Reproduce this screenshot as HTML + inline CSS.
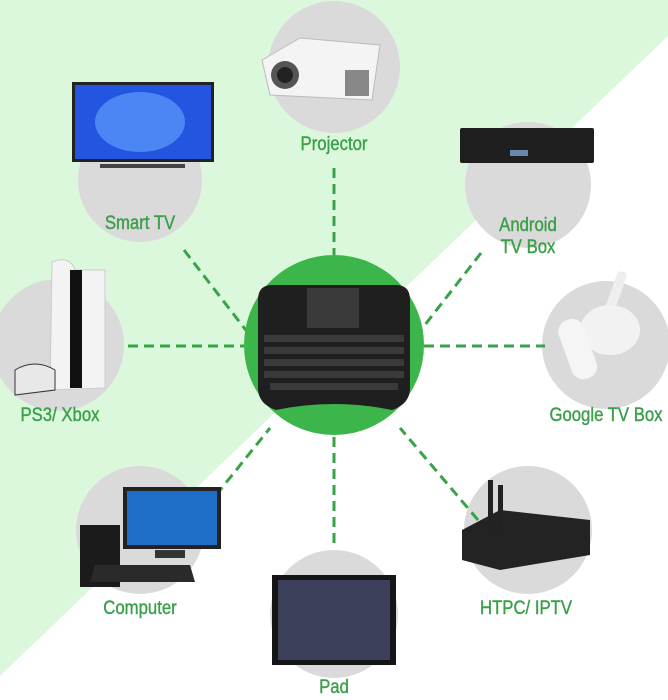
<!DOCTYPE html>
<html><head><meta charset="utf-8"><style>
html,body{margin:0;padding:0;}
body{width:668px;height:700px;overflow:hidden;background:#fff;position:relative;font-family:"Liberation Sans",sans-serif;}
.l{position:absolute;color:#3a9f4a;font-size:19px;text-align:center;transform:translateX(-50%) scaleX(0.88);white-space:nowrap;line-height:22px;-webkit-text-stroke:0.4px #3a9f4a;}
</style></head><body>
<svg width="668" height="700" style="position:absolute;left:0;top:0">
<polygon points="0,0 668,0 668,36 0,676" fill="#dcf8dc"/>
<g fill="#dadada">
<circle cx="334" cy="67" r="66"/>
<circle cx="140" cy="180" r="62"/>
<circle cx="528" cy="185" r="63"/>
<circle cx="58" cy="345" r="66"/>
<circle cx="606" cy="345" r="64"/>
<circle cx="140" cy="530" r="64"/>
<circle cx="334" cy="614" r="64"/>
<circle cx="528" cy="530" r="64"/>
</g>
<g stroke="#3aa34a" stroke-width="3" stroke-dasharray="10 6" fill="none">
<line x1="334" y1="168" x2="334" y2="255"/>
<line x1="334" y1="437" x2="334" y2="548"/>
<line x1="128" y1="346" x2="244" y2="346"/>
<line x1="424" y1="346" x2="545" y2="346"/>
<line x1="184" y1="250" x2="272" y2="364" />
<line x1="481" y1="253" x2="396" y2="362"/>
<line x1="196" y1="520" x2="270" y2="428"/>
<line x1="478" y1="520" x2="400" y2="428"/>
</g>
<circle cx="334" cy="345" r="90" fill="#3cb64a"/>
<path d="M258 300 Q258 285 272 285 L396 285 Q410 285 410 300 L410 388 Q410 404 392 410 Q334 398 276 410 Q258 404 258 388 Z" fill="#1f1f1f"/>
<rect x="307" y="288" width="52" height="40" fill="#3a3a3a"/>
<g fill="#3a3a3a"><rect x="264" y="335" width="140" height="7"/><rect x="264" y="347" width="140" height="7"/><rect x="264" y="359" width="140" height="7"/><rect x="264" y="371" width="140" height="7"/><rect x="270" y="383" width="128" height="7"/></g>
<path d="M262 60 L300 38 L380 45 L372 100 L270 95 Z" fill="#f4f4f4" stroke="#bbb"/>
<circle cx="285" cy="75" r="14" fill="#555"/><circle cx="285" cy="75" r="8" fill="#222"/>
<rect x="345" y="70" width="24" height="26" fill="#888"/>
<rect x="72" y="82" width="142" height="80" fill="#222"/>
<rect x="75" y="85" width="136" height="74" fill="#2455e0"/>
<ellipse cx="140" cy="122" rx="45" ry="30" fill="#4c86f5"/>
<rect x="100" y="164" width="85" height="4" fill="#444"/>
<rect x="460" y="128" width="134" height="35" rx="2" fill="#1e1e1e"/>
<rect x="510" y="150" width="18" height="6" fill="#68a"/>
<path d="M52 262 Q70 255 75 270 L105 270 L105 388 L50 390 Z" fill="#f3f3f3" stroke="#ccc"/>
<rect x="70" y="270" width="12" height="118" fill="#111"/>
<path d="M15 370 Q35 358 55 370 L55 390 L15 395 Z" fill="#e8e8e8" stroke="#333"/>
<rect x="608" y="270" width="10" height="65" rx="4" fill="#eee" transform="rotate(20 613 300)"/>
<ellipse cx="610" cy="330" rx="30" ry="25" fill="#f2f2f2"/>
<rect x="565" y="318" width="26" height="62" rx="12" fill="#f5f5f5" transform="rotate(-20 578 350)"/>
<rect x="80" y="525" width="40" height="62" fill="#1b1b1b"/>
<rect x="123" y="487" width="98" height="62" fill="#222"/>
<rect x="127" y="491" width="90" height="54" fill="#1f6fc8"/>
<rect x="155" y="550" width="30" height="8" fill="#333"/>
<polygon points="95,565 190,565 195,582 90,582" fill="#2a2a2a"/>
<rect x="272" y="575" width="124" height="90" fill="#151515"/>
<rect x="278" y="580" width="112" height="80" fill="#3b3f5a"/>
<polygon points="462,530 500,510 590,520 590,555 500,570 462,560" fill="#232323"/>
<rect x="488" y="480" width="5" height="50" fill="#222"/><rect x="498" y="485" width="5" height="50" fill="#222"/>
</svg>
<div class="l" style="left:334px;top:134px">Projector</div>
<div class="l" style="left:140px;top:213px">Smart TV</div>
<div class="l" style="left:528px;top:215px">Android<br>TV Box</div>
<div class="l" style="left:60px;top:405px">PS3/ Xbox</div>
<div class="l" style="left:606px;top:405px">Google TV Box</div>
<div class="l" style="left:140px;top:598px">Computer</div>
<div class="l" style="left:526px;top:598px">HTPC/ IPTV</div>
<div class="l" style="left:334px;top:677px">Pad</div>
</body></html>
